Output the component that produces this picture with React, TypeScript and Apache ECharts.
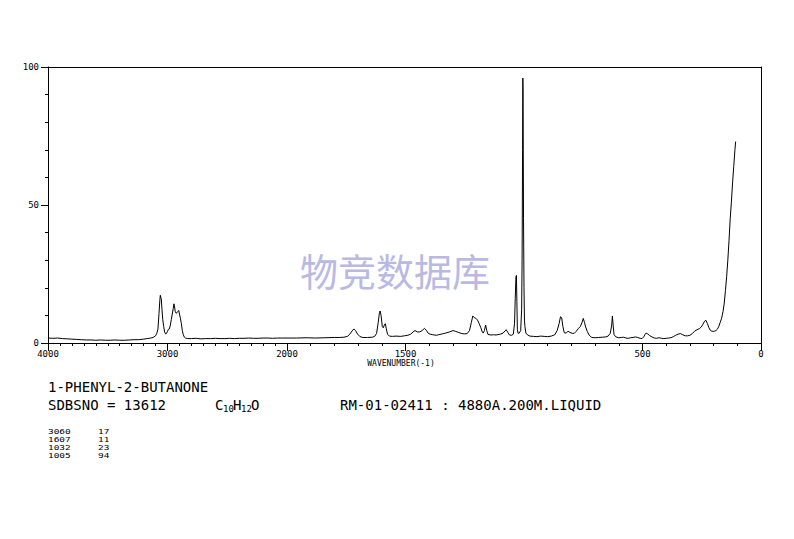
import React, { useEffect, useRef } from 'react';
import * as echarts from 'echarts';

// Raman spectrum of 1-phenyl-2-butanone
// High wavenumber region (4000 -> 2000 cm-1)
const highWavenumber = [
  4000, 3960, 3920, 3880, 3840, 3800, 3760, 3720, 3680, 3640, 3600, 3560, 3520, 3480, 3440, 3400,
  3360, 3320, 3280, 3240, 3200, 3170, 3140, 3120, 3100, 3090, 3080, 3071, 3064, 3060, 3056, 3052,
  3046, 3040, 3032, 3024, 3016, 3008, 3000, 2992, 2984, 2976, 2968, 2960, 2952, 2946, 2942, 2936,
  2928, 2920, 2912, 2906, 2900, 2892, 2884, 2876, 2868, 2860, 2850, 2830, 2800, 2760, 2720, 2680,
  2640, 2600, 2560, 2520, 2480, 2440, 2400, 2360, 2320, 2280, 2240, 2200, 2160, 2120, 2080, 2040, 2000,
];
const highIntensity = [
  1.8, 1.7, 1.8, 1.6, 1.5, 1.4, 1.3, 1.2, 1.1, 1.1, 1.0, 1.1, 1.0, 1.0, 1.1, 1.0,
  1.0, 1.1, 1.2, 1.2, 1.4, 1.6, 1.8, 2.0, 2.6, 3.5, 5.0, 10.7, 15.5, 17.3, 16.6, 16.0,
  12.0, 8.6, 6.0, 4.0, 3.3, 3.5, 4.2, 5.0, 5.1, 6.5, 8.5, 10.5, 12.5, 14.2, 13.5, 11.5,
  10.8, 11.0, 11.5, 11.8, 10.5, 9.0, 7.0, 4.5, 3.0, 2.2, 1.8, 1.6, 1.6, 1.7, 1.5, 1.6,
  1.6, 1.7, 1.6, 1.6, 1.7, 1.6, 1.7, 1.7, 1.8, 1.7, 1.7, 1.8, 1.8, 1.7, 1.8, 1.8, 1.8,
];
// Low wavenumber region (2000 -> ~107 cm-1)
const lowWavenumber = [
  2000, 1960, 1920, 1880, 1840, 1800, 1780, 1760, 1745, 1735, 1725, 1718, 1711, 1702, 1692, 1680,
  1660, 1640, 1630, 1622, 1615, 1610, 1607, 1603, 1598, 1594, 1588, 1585, 1581, 1576, 1568, 1555,
  1540, 1520, 1505, 1490, 1478, 1468, 1460, 1450, 1440, 1430, 1420, 1412, 1404, 1396, 1385, 1370,
  1360, 1345, 1330, 1315, 1300, 1288, 1275, 1262, 1250, 1240, 1230, 1222, 1216, 1210, 1204, 1196,
  1189, 1182, 1176, 1172, 1167, 1162, 1157, 1152, 1140, 1128, 1118, 1100, 1088, 1080, 1075, 1068,
  1061, 1052, 1045, 1040, 1037, 1034, 1032, 1030, 1028, 1025, 1020, 1014, 1010, 1008, 1006, 1005,
  1004, 1002, 1000, 998, 996, 992, 985, 975, 960, 945, 930, 915, 900, 885, 870, 860,
  852, 846, 841, 836, 830, 822, 814, 806, 796, 788, 780, 770, 762, 755, 750, 745,
  740, 733, 725, 714, 700, 685, 670, 655, 645, 636, 630, 627, 624, 620, 612, 600,
  590, 580, 570, 560, 550, 540, 530, 520, 510, 502, 495, 490, 485, 478, 470, 460,
  450, 440, 430, 420, 410, 400, 390, 380, 370, 360, 350, 340, 330, 320, 310, 300,
  290, 280, 270, 260, 252, 245, 238, 232, 226, 220, 214, 208, 202, 196, 190, 184,
  178, 172, 166, 160, 155, 150, 145, 140, 135, 130, 125, 120, 115, 110, 107,
];
const lowIntensity = [
  1.8, 1.8, 1.9, 1.8, 1.9, 2.0, 2.0, 2.1, 2.4, 3.2, 4.4, 5.1, 4.5, 3.2, 2.3, 2.0,
  2.0, 2.1, 2.4, 3.5, 7.5, 11.0, 11.6, 10.0, 6.0, 5.5, 6.8, 7.0, 5.2, 3.2, 2.5, 2.4,
  2.5, 2.4, 2.6, 2.8, 3.2, 4.0, 4.5, 4.0, 4.0, 4.5, 5.3, 4.6, 3.5, 3.2, 3.0, 2.8,
  3.0, 3.3, 3.6, 4.0, 4.5, 4.2, 3.8, 3.4, 3.3, 3.4, 4.5, 7.5, 9.8, 9.2, 9.0, 8.3,
  7.0, 5.5, 4.0, 3.6, 4.5, 6.5, 4.5, 3.1, 2.9, 3.0, 2.9, 3.2, 3.6, 4.4, 4.8, 3.8,
  2.9, 2.8, 3.2, 7.0, 16.0, 24.0, 24.5, 15.0, 5.0, 3.5, 3.6, 4.5, 12.0, 30.0, 70.0, 96.0,
  92.0, 45.0, 20.0, 8.0, 5.9, 3.6, 2.9, 2.5, 2.4, 2.3, 2.5, 2.4, 2.3, 2.5, 3.0, 4.5,
  7.0, 9.5, 9.2, 6.0, 3.7, 3.6, 4.3, 3.8, 3.5, 3.5, 4.2, 5.3, 6.0, 7.5, 8.9, 7.5,
  5.8, 4.2, 2.8, 2.0, 1.9, 2.0, 2.1, 2.2, 2.5, 3.5, 6.5, 9.8, 6.5, 3.0, 2.2, 1.9,
  2.0, 2.1, 1.8, 1.7, 1.9, 2.0, 2.2, 2.0, 1.7, 1.6, 2.2, 3.0, 3.6, 3.3, 2.7, 2.2,
  1.8, 1.7, 1.9, 1.7, 1.6, 1.7, 1.8, 1.9, 2.3, 2.8, 3.2, 3.4, 3.0, 2.6, 2.6, 2.8,
  3.4, 4.3, 4.8, 5.2, 5.8, 6.8, 7.9, 8.2, 7.0, 5.6, 4.6, 4.3, 4.2, 4.3, 4.5, 5.0,
  6.0, 7.5, 9.0, 11.5, 14.5, 19.0, 24.0, 30.0, 37.0, 45.0, 51.0, 58.0, 64.0, 70.0, 73.0,
];

const yTickLabels = [0, 50, 100];
const highTickLabels = [4000, 3000, 2000];
const lowMajorTicks = [2000, 1500, 500, 0];
const lowTickLabels = [1500, 500, 0];

const peakWavenumbers = ['3060', '1607', '1032', '1005'];
const peakIntensities = ['17', '11', '23', '94'];

const compoundName = '1-PHENYL-2-BUTANONE';
const sdbsText = 'SDBSNO = 13612';
const conditionText = 'RM-01-02411 : 4880A.200M.LIQUID';
const axisTitle = 'WAVENUMBER(-1)';
const watermark = '物竞数据库';

const MONO = "'DejaVu Sans Mono', 'Liberation Mono', monospace";
const BLACK = '#000';

function baseX(gridIndex: number, min: number, max: number, extra: any) {
  return {
    type: 'value',
    gridIndex,
    min,
    max,
    inverse: true,
    position: 'bottom',
    interval: 100,
    splitLine: { show: false },
    axisLine: { show: false, lineStyle: { color: BLACK, width: 1 } },
    axisTick: { show: false, lineStyle: { color: BLACK, width: 1 } },
    axisLabel: { show: false },
    ...extra,
  };
}

export default function App() {
  const ref = useRef<HTMLDivElement>(null);

  useEffect(() => {
    if (!ref.current) return;
    const chart = echarts.init(ref.current, undefined, { renderer: 'svg' });

    const highData = highWavenumber.map((w, i) => [w, highIntensity[i]]);
    const lowData = lowWavenumber.map((w, i) => [w, lowIntensity[i]]);

    const labelStyle = {
      fontSize: 9, fontFamily: MONO, color: BLACK,
      formatter: (v: number) => String(v),
    };

    const texts: any[] = [
      {
        type: 'text', x: 395, y: 269, z: 0,
        style: {
          text: watermark, fontSize: 38, fontFamily: "'Noto Sans CJK SC', sans-serif",
          fill: '#b9b9e4', align: 'center', verticalAlign: 'middle',
        },
      },
      {
        type: 'text', x: 401, y: 363,
        style: { text: axisTitle, fontSize: 8, fontFamily: MONO, fill: BLACK, align: 'center', verticalAlign: 'middle' },
      },
      {
        type: 'text', x: 48, y: 387,
        style: { text: compoundName, fontSize: 14, fontFamily: MONO, fill: BLACK, verticalAlign: 'middle' },
      },
      {
        type: 'text', x: 48, y: 405,
        style: { text: sdbsText, fontSize: 14, fontFamily: MONO, fill: BLACK, verticalAlign: 'middle' },
      },
      { type: 'text', x: 215, y: 405, style: { text: 'C', fontSize: 14, fontFamily: MONO, fill: BLACK, verticalAlign: 'middle' } },
      { type: 'text', x: 223, y: 409, style: { text: '10', fontSize: 9, fontFamily: MONO, fill: BLACK, verticalAlign: 'middle' } },
      { type: 'text', x: 233, y: 405, style: { text: 'H', fontSize: 14, fontFamily: MONO, fill: BLACK, verticalAlign: 'middle' } },
      { type: 'text', x: 241, y: 409, style: { text: '12', fontSize: 9, fontFamily: MONO, fill: BLACK, verticalAlign: 'middle' } },
      { type: 'text', x: 251, y: 405, style: { text: 'O', fontSize: 14, fontFamily: MONO, fill: BLACK, verticalAlign: 'middle' } },
      {
        type: 'text', x: 340, y: 405,
        style: { text: conditionText, fontSize: 14, fontFamily: MONO, fill: BLACK, verticalAlign: 'middle' },
      },
    ];
    peakWavenumbers.forEach((w, i) => {
      texts.push({
        type: 'text', x: 48, y: 431 + i * 8, scaleX: 1.35,
        style: { text: w, fontSize: 7, lineHeight: 7, fontFamily: MONO, fill: BLACK, verticalAlign: 'middle' },
      });
      texts.push({
        type: 'text', x: 98, y: 431 + i * 8, scaleX: 1.35,
        style: { text: peakIntensities[i], fontSize: 7, lineHeight: 7, fontFamily: MONO, fill: BLACK, verticalAlign: 'middle' },
      });
    });

    const option: any = {
      animation: false,
      backgroundColor: '#fff',
      grid: [
        { left: 48, top: 67, width: 239, height: 276 },
        { left: 287, top: 67, width: 474, height: 276 },
      ],
      xAxis: [
        // grid 0 (4000-2000)
        baseX(0, 2000, 4000, {
          axisLine: { show: true, lineStyle: { color: BLACK, width: 1 } },
          axisTick: { show: true, length: 3, lineStyle: { color: BLACK, width: 1 } },
        }),
        baseX(0, 2000, 4000, {
          interval: 1000,
          axisTick: { show: true, length: 8, customValues: highTickLabels, lineStyle: { color: BLACK, width: 1 } },
          axisLabel: { show: true, customValues: highTickLabels, margin: 6, ...labelStyle },
        }),
        baseX(0, 2000, 4000, {
          position: 'top',
          axisLine: { show: true, lineStyle: { color: BLACK, width: 1 } },
        }),
        // grid 1 (2000-0)
        baseX(1, 0, 2000, {
          axisLine: { show: true, lineStyle: { color: BLACK, width: 1 } },
          axisTick: { show: true, length: 3, lineStyle: { color: BLACK, width: 1 } },
        }),
        baseX(1, 0, 2000, {
          interval: 500,
          axisTick: { show: true, length: 8, customValues: lowMajorTicks, lineStyle: { color: BLACK, width: 1 } },
          axisLabel: { show: true, customValues: lowTickLabels, margin: 6, ...labelStyle },
        }),
        baseX(1, 0, 2000, {
          position: 'top',
          axisLine: { show: true, lineStyle: { color: BLACK, width: 1 } },
        }),
      ],
      yAxis: [
        {
          type: 'value', gridIndex: 0, min: 0, max: 100, interval: 10, position: 'left',
          splitLine: { show: false },
          axisLine: { show: true, lineStyle: { color: BLACK, width: 1 } },
          axisTick: { show: true, length: 3, lineStyle: { color: BLACK, width: 1 } },
          axisLabel: { show: false },
        },
        {
          type: 'value', gridIndex: 0, min: 0, max: 100, interval: 50, position: 'left',
          splitLine: { show: false },
          axisLine: { show: false },
          axisTick: { show: true, length: 7, customValues: yTickLabels, lineStyle: { color: BLACK, width: 1 } },
          axisLabel: { show: true, customValues: yTickLabels, margin: 9, ...labelStyle },
        },
        {
          type: 'value', gridIndex: 1, min: 0, max: 100, interval: 10, position: 'right',
          splitLine: { show: false },
          axisLine: { show: true, lineStyle: { color: BLACK, width: 1 } },
          axisTick: { show: false },
          axisLabel: { show: false },
        },
      ],
      series: [
        {
          type: 'line', xAxisIndex: 0, yAxisIndex: 0, data: highData,
          showSymbol: false, silent: true, z: 5,
          lineStyle: { color: BLACK, width: 1 },
        },
        {
          type: 'line', xAxisIndex: 3, yAxisIndex: 2, data: lowData,
          showSymbol: false, silent: true, z: 5,
          lineStyle: { color: BLACK, width: 1 },
        },
      ],
      graphic: texts,
    };

    chart.setOption(option);
    return () => chart.dispose();
  }, []);

  return (
    <div
      ref={ref}
      style={{ position: 'fixed', left: 0, top: 0, width: 794, height: 539, background: '#fff' }}
    />
  );
}
